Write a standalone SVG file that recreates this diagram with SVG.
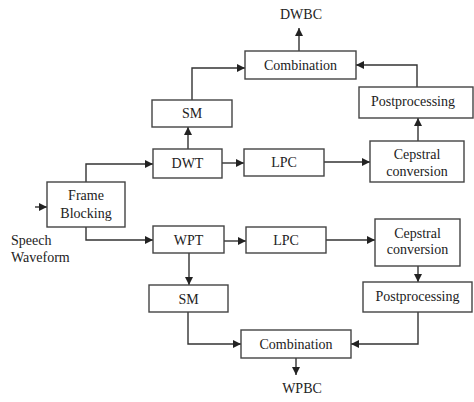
<svg xmlns="http://www.w3.org/2000/svg" width="474" height="402" viewBox="0 0 474 402">
<defs>
<marker id="ah" viewBox="0 0 10 10" refX="10" refY="5" markerWidth="8" markerHeight="8" markerUnits="userSpaceOnUse" orient="auto">
<path d="M0,0 L10,5 L0,10 z" fill="#222"/>
</marker>
<style>
rect{fill:#fff;stroke:#444;stroke-width:1.4}
text{font-family:"Liberation Serif","Times New Roman",serif;font-size:14px;fill:#222;text-anchor:middle}
.c path{fill:none;stroke:#333;stroke-width:1.4;marker-end:url(#ah)}
</style>
</defs>
<rect x="0" y="0" width="474" height="402" style="fill:#fff;stroke:none"/>
<g class="c" id="connectors">
<path d="M299,51 V28"/>
<path d="M192,100 V68 H245"/>
<path d="M417,87 V65 H356"/>
<path d="M188,149 V127"/>
<path d="M222,163 H244"/>
<path d="M324,162 H370"/>
<path d="M418,141 V118"/>
<path d="M86,182 V164 H153"/>
<path d="M35,207 H47"/>
<path d="M86,227 V240 H153"/>
<path d="M224,241 H246"/>
<path d="M326,240 H375"/>
<path d="M418,266 V282"/>
<path d="M189,253 V285"/>
<path d="M188,312 V344 H241"/>
<path d="M418,312 V344 H351"/>
<path d="M296,358 V375"/>
</g>
<g id="dwbc"><text x="301" y="19">DWBC</text></g>
<g id="comb1"><rect x="245" y="51" width="111" height="28"/><text x="300.5" y="70">Combination</text></g>
<g id="sm1"><rect x="152" y="100" width="80" height="27"/><text x="192" y="118">SM</text></g>
<g id="post1"><rect x="359" y="87" width="114" height="31"/><text x="413" y="106">Postprocessing</text></g>
<g id="dwt"><rect x="153" y="149" width="69" height="29"/><text x="187.5" y="168">DWT</text></g>
<g id="lpc1"><rect x="244" y="149" width="80" height="27"/><text x="284" y="167">LPC</text></g>
<g id="ceps1"><rect x="370" y="141" width="94" height="41"/><text x="417" y="159">Cepstral</text><text x="417" y="176">conversion</text></g>
<g id="frame"><rect x="47" y="182" width="78" height="45"/><text x="86" y="200">Frame</text><text x="86" y="218">Blocking</text></g>
<g id="speech"><text x="11" y="245" style="text-anchor:start">Speech</text><text x="11" y="262" style="text-anchor:start">Waveform</text></g>
<g id="wpt"><rect x="153" y="226" width="71" height="27"/><text x="188.5" y="245">WPT</text></g>
<g id="lpc2"><rect x="246" y="227" width="80" height="26"/><text x="286" y="245">LPC</text></g>
<g id="ceps2"><rect x="375" y="219" width="85" height="47"/><text x="417.5" y="238">Cepstral</text><text x="417.5" y="254">conversion</text></g>
<g id="post2"><rect x="363" y="282" width="109" height="30"/><text x="417.5" y="301">Postprocessing</text></g>
<g id="sm2"><rect x="149" y="285" width="79" height="27"/><text x="188.5" y="304">SM</text></g>
<g id="comb2"><rect x="241" y="330" width="110" height="28"/><text x="296" y="349">Combination</text></g>
<g id="wpbc"><text x="302" y="393">WPBC</text></g>
</svg>
